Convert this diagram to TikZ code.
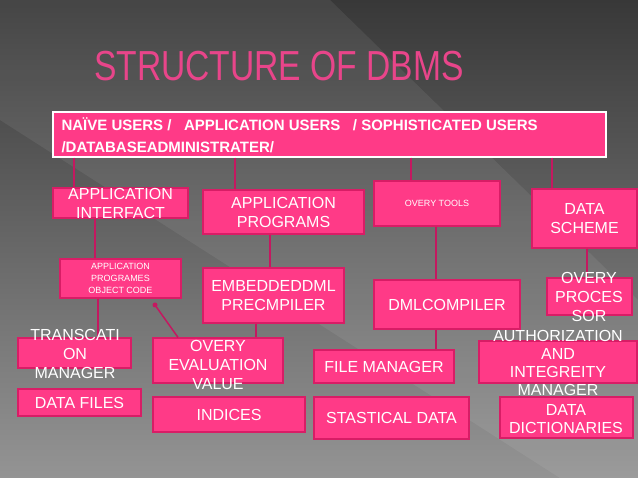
\documentclass[tikz,border=0pt]{standalone}
\usepackage{fontspec}
\setmainfont{Liberation Sans}
\usetikzlibrary{fit}
\definecolor{pk}{HTML}{FF3A87}
\definecolor{pkb}{HTML}{D81D66}
\definecolor{ln}{HTML}{C41860}
\definecolor{tt}{HTML}{E8458A}
\begin{document}
\begin{tikzpicture}[x=1pt,y=-1pt,
  box/.style={fill=pk,draw=pkb,line width=1.2pt,inner sep=0pt},
  txt/.style={text=white,align=center,font=\fontsize{16}{19}\selectfont},
  stxt/.style={text=white,align=center,font=\fontsize{9}{12}\selectfont},
  con/.style={draw=ln,line width=2.6pt}]
\shade[top color=black!78,bottom color=black!42] (0,0) rectangle (638,478);
\fill[white,opacity=0.07] (0,0) -- (330,0) -- (638,300) -- (638,478) -- (560,478) -- (0,120) -- cycle;
\useasboundingbox (0,0) rectangle (638,478);
\node[text=tt,xscale=0.8,font=\fontsize{42}{42}\selectfont] (title) at (279,66) {STRUCTURE OF DBMS};
% boxes
\node[box,draw=white,fit={(53,112)(606,157)}] (top) {};
\node[text=white,align=left,anchor=west,font=\bfseries\fontsize{15}{22}\selectfont] (toptxt) at (58,135) {NAÏVE USERS /~~ APPLICATION USERS~~ / SOPHISTICATED USERS\\/DATABASEADMINISTRATER/};
\node[box,fit={(53,188)(188,218)}] (appint) {};
\node[box,fit={(203,190)(364,234)}] (appprog) {};
\node[box,fit={(374,181)(500,226)}] (tools) {};
\node[box,fit={(532,189)(637,248)}] (scheme) {};
\node[box,fit={(60,259)(181,298)}] (apo) {};
\node[box,fit={(203,268)(344,323)}] (emb) {};
\node[box,fit={(374,280)(520,329)}] (dml) {};
\node[box,fit={(547,278)(632,315)}] (qp) {};
\node[box,fit={(18,338)(131,368)}] (trans) {};
\node[box,fit={(153,338)(283,383)}] (qev) {};
\node[box,fit={(314,350)(454,383)}] (fm) {};
\node[box,fit={(479,341)(637,383)}] (auth) {};
\node[box,fit={(18,389)(141,416)}] (df) {};
\node[box,fit={(153,397)(305,432)}] (ind) {};
\node[box,fit={(314,397)(469,439)}] (stat) {};
\node[box,fit={(500,397)(633,438)}] (dd) {};
% connectors
\draw[con] (top.south -| 74,0) -- (appint.north -| 74,0);
\draw[con] (top.south -| 235,0) -- (appprog.north -| 235,0);
\draw[con] (top.south -| 411,0) -- (tools.north -| 411,0);
\draw[con] (top.south -| 552,0) -- (scheme.north -| 552,0);
\draw[con] (appint.south -| 95,0) -- (apo.north -| 95,0);
\draw[con] (appprog.south -| 270,0) -- (emb.north -| 270,0);
\draw[con] (tools.south -| 436,0) -- (dml.north -| 436,0);
\draw[con] (scheme.south -| 587,0) -- (qp.north -| 587,0);
\draw[con] (apo.south -| 98,0) -- (trans.north -| 98,0);
\draw[con] (emb.south -| 256,0) -- (qev.north -| 256,0);
\draw[con] (dml.south -| 436,0) -- (fm.north -| 436,0);
\coordinate (dot) at (155,305);
\fill[ln] (dot) circle (2.5);
\draw[draw=ln,line width=1.5pt] (dot) -- (qev.north west -| 178,0);
% texts
\node[txt] at (appint.center) {APPLICATION\\INTERFACT};
\node[txt] at (appprog.center) {APPLICATION\\PROGRAMS};
\node[stxt] at (tools.center) {OVERY TOOLS};
\node[txt] at (scheme.center) {DATA\\SCHEME};
\node[stxt] at (apo.center) {APPLICATION\\PROGRAMES\\OBJECT CODE};
\node[txt] at (emb.center) {EMBEDDEDDML\\PRECMPILER};
\node[txt] at (dml.center) {DMLCOMPILER};
\node[txt] at (589,297) {OVERY\\PROCES\\SOR};
\node[txt] at (75,354) {TRANSCATI\\ON\\MANAGER};
\node[txt] at (218,365) {OVERY\\EVALUATION\\VALUE};
\node[txt] at (fm.center) {FILE MANAGER};
\node[txt,font=\fontsize{16}{18}\selectfont] at (558,363) {AUTHORIZATION\\AND\\INTEGREITY\\MANAGER};
\node[txt] at (df.center) {DATA FILES};
\node[txt] at (ind.center) {INDICES};
\node[txt] at (stat.center) {STASTICAL DATA};
\node[txt,font=\fontsize{16}{18}\selectfont] at (566,419) {DATA\\DICTIONARIES};
\end{tikzpicture}
\end{document}
